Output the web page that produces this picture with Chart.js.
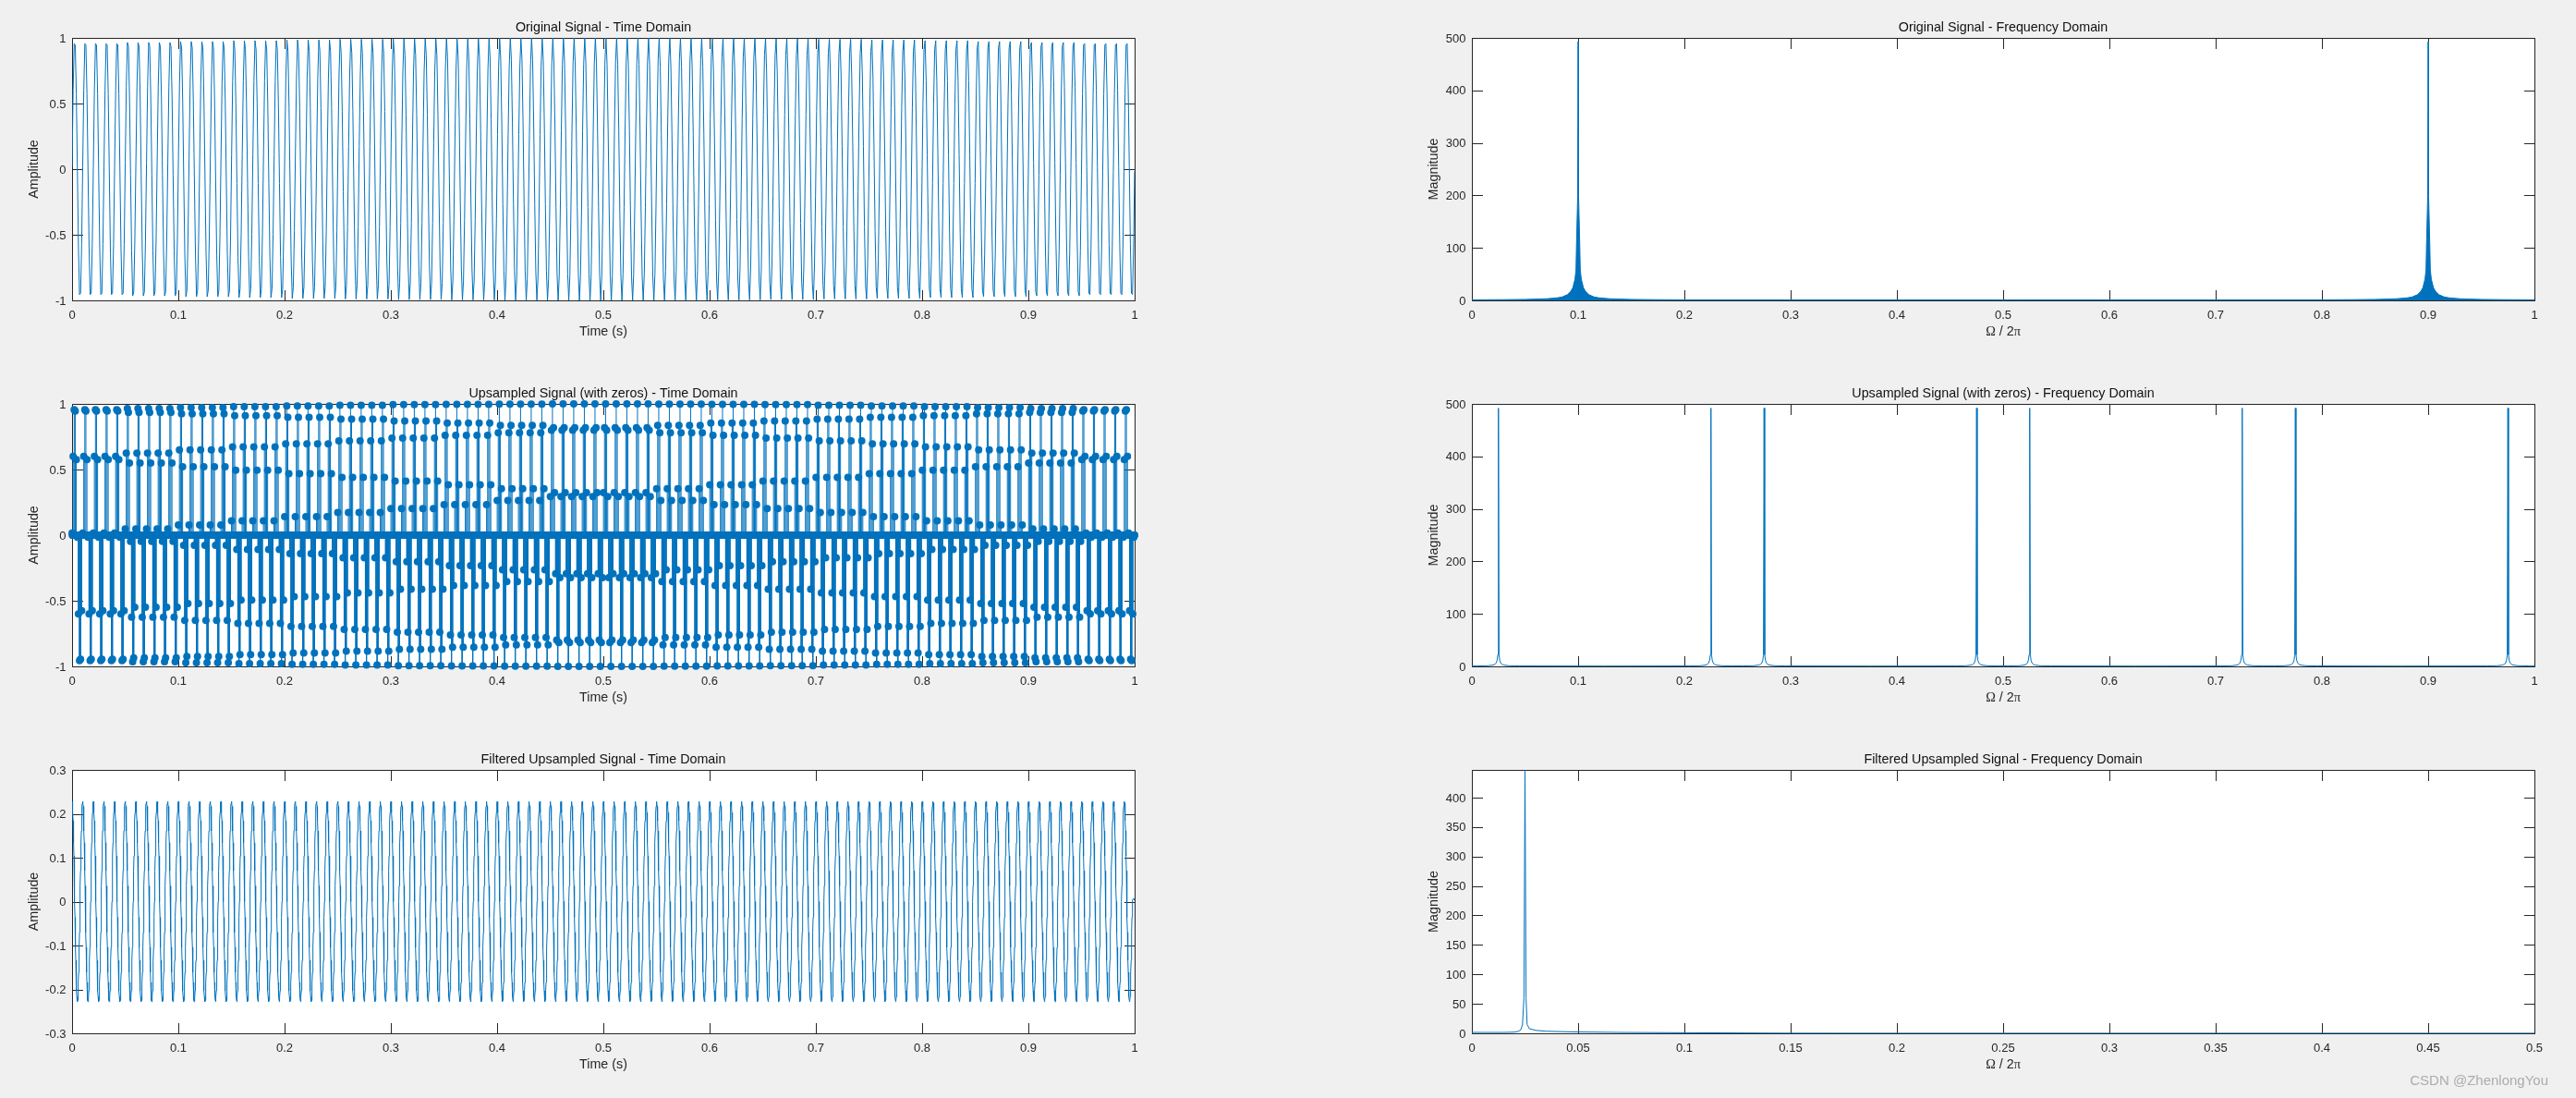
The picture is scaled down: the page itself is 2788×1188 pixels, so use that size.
<!DOCTYPE html>
<html>
<head>
<meta charset="utf-8">
<script src="https://cdn.jsdelivr.net/npm/chart.js@4/dist/chart.umd.min.js"></script>
<style>
html,body{margin:0;padding:0;background:#f0f0f0;width:2788px;height:1188px;overflow:hidden;}
canvas{position:absolute;}
#wm{position:absolute;right:30px;top:1161px;font:15px "Liberation Sans",Arial,sans-serif;line-height:16px;color:#acacac;white-space:nowrap;}
</style>
</head>
<body>
<canvas id="c1"></canvas><canvas id="c2"></canvas>
<canvas id="c3"></canvas><canvas id="c4"></canvas>
<canvas id="c5"></canvas><canvas id="c6"></canvas>
<div id="wm">CSDN @ZhenlongYou</div>
<script>
// ================= DATA =================
// Original signal: 1000 samples over 0..1 s, 10 samples per cycle.
// Sample levels of one cycle, read in 20 consecutive 0.05 s segments (5 cycles each);
// the levels drift slowly, which is visible in the stem plot.
const origSegments = [
  [0.016,0.600,0.956,0.946,0.575,-0.016,-0.600,-0.956,-0.946,-0.575],
  [0.047,0.625,0.965,0.935,0.549,-0.047,-0.625,-0.965,-0.935,-0.549],
  [0.078,0.649,0.972,0.924,0.522,-0.078,-0.649,-0.972,-0.924,-0.522],
  [0.110,0.673,0.979,0.911,0.495,-0.110,-0.673,-0.979,-0.911,-0.495],
  [0.141,0.696,0.985,0.898,0.468,-0.141,-0.696,-0.985,-0.898,-0.468],
  [0.172,0.718,0.990,0.884,0.440,-0.172,-0.718,-0.990,-0.884,-0.440],
  [0.203,0.740,0.994,0.869,0.412,-0.203,-0.740,-0.994,-0.869,-0.412],
  [0.233,0.760,0.997,0.853,0.383,-0.233,-0.760,-0.997,-0.853,-0.383],
  [0.264,0.780,0.999,0.836,0.353,-0.264,-0.780,-0.999,-0.836,-0.353],
  [0.294,0.800,1.000,0.818,0.324,-0.294,-0.800,-1.000,-0.818,-0.324],
  [0.324,0.818,1.000,0.800,0.294,-0.324,-0.818,-1.000,-0.800,-0.294],
  [0.353,0.836,0.999,0.780,0.264,-0.353,-0.836,-0.999,-0.780,-0.264],
  [0.383,0.853,0.997,0.760,0.233,-0.383,-0.853,-0.997,-0.760,-0.233],
  [0.412,0.869,0.994,0.740,0.203,-0.412,-0.869,-0.994,-0.740,-0.203],
  [0.440,0.884,0.990,0.718,0.172,-0.440,-0.884,-0.990,-0.718,-0.172],
  [0.468,0.898,0.985,0.696,0.141,-0.468,-0.898,-0.985,-0.696,-0.141],
  [0.495,0.911,0.979,0.673,0.110,-0.495,-0.911,-0.979,-0.673,-0.110],
  [0.522,0.924,0.972,0.649,0.078,-0.522,-0.924,-0.972,-0.649,-0.078],
  [0.549,0.935,0.965,0.625,0.047,-0.549,-0.935,-0.965,-0.625,-0.047],
  [0.575,0.946,0.956,0.600,0.016,-0.575,-0.946,-0.956,-0.600,-0.016]
];
const cyclesPerSegment = 5;
const upFactor = 4;            // zeros inserted: 3 zeros after every sample

// Filtered upsampled signal: one 40-sample cycle (amplitude ~0.228), 100 cycles,
// and the last 20 samples (end transient) as read.
const filtCycle = [0.228,0.225,0.217,0.203,0.184,0.161,0.134,0.104,0.070,0.036,
  0.000,-0.036,-0.070,-0.104,-0.134,-0.161,-0.184,-0.203,-0.217,-0.225,
  -0.228,-0.225,-0.217,-0.203,-0.184,-0.161,-0.134,-0.104,-0.070,-0.036,
  0.000,0.036,0.070,0.104,0.134,0.161,0.184,0.203,0.217,0.225];
const filtCycles = 100;
const filtEnd = [-0.228,-0.225,-0.217,-0.203,-0.184,-0.161,-0.134,-0.104,-0.070,-0.036,
  -0.010,0.000,0.004,0.006,0.007,0.007,0.006,0.005,0.004,0.003];

// Original spectrum: peaks and the skirt shape around each peak (offset, magnitude)
const origPeakF = [0.1, 0.9];
const origPeakM = [493, 493];
const origSkirtOff = [-0.1,-0.07,-0.05,-0.03,-0.02,-0.015,-0.01,-0.007,-0.005,-0.003,-0.002,-0.0015,-0.0004,
                       0.0004,0.0015,0.002,0.003,0.005,0.007,0.01,0.015,0.02,0.03,0.05,0.07,0.1];
const origSkirtM   = [1.0,1.4,1.8,3.0,4.7,6.5,11,17,24,40,58,108,200,
                       200,108,58,40,24,17,11,6.5,4.7,3.0,1.8,1.4,1.0];
const origBaseF = [0.5];
const origBaseM = [0.8];

// Upsampled spectrum: 8 image peaks
const upPeakF = [0.025,0.225,0.275,0.475,0.525,0.725,0.775,0.975];
const upPeakM = [492,492,492,492,492,492,492,492];
const upSkirtOff = [-0.02,-0.01,-0.005,-0.003,-0.002,-0.0012,-0.0006,
                     0.0006,0.0012,0.002,0.003,0.005,0.01,0.02];
const upSkirtM   = [0.8,1.2,2.5,4.5,7,12,22,22,12,7,4.5,2.5,1.2,0.8];
const upBaseF = [0,0.125,0.375,0.625,0.875,1];
const upBaseM = [0.6,0.6,0.6,0.6,0.6,0.6];

// Filtered spectrum (0 .. 0.5)
const filtSpecF = [0,0.015,0.02,0.022,0.023,0.0238,0.0245,0.025,0.0255,0.026,0.027,0.03,0.035,0.04,0.05,0.07,0.1,0.13,0.15,0.2,0.3,0.4,0.5];
const filtSpecM = [1.5,1.5,2,3.5,6,14,60,447,60,15,8,5,3.5,3,2.3,1.5,1,0.5,0.2,0.1,0.1,0.1,0.1];

// Tick values and labels
const timeTicks = [0,0.1,0.2,0.3,0.4,0.5,0.6,0.7,0.8,0.9,1];
const timeTickLabels = ['0','0.1','0.2','0.3','0.4','0.5','0.6','0.7','0.8','0.9','1'];
const halfTicks = [0,0.05,0.1,0.15,0.2,0.25,0.3,0.35,0.4,0.45,0.5];
const halfTickLabels = ['0','0.05','0.1','0.15','0.2','0.25','0.3','0.35','0.4','0.45','0.5'];
const ampTicks = [-1,-0.5,0,0.5,1];
const ampTickLabels = ['-1','-0.5','0','0.5','1'];
const filtAmpTicks = [-0.3,-0.2,-0.1,0,0.1,0.2,0.3];
const filtAmpTickLabels = ['-0.3','-0.2','-0.1','0','0.1','0.2','0.3'];
const magTicks = [0,100,200,300,400,500];
const magTickLabels = ['0','100','200','300','400','500'];
const filtMagTicks = [0,50,100,150,200,250,300,350,400];
const filtMagTickLabels = ['0','50','100','150','200','250','300','350','400'];

// ================= BUILD SERIES =================
const origSamples = [];
origSegments.forEach(row => { for (let k = 0; k < cyclesPerSegment; k++) origSamples.push(...row); });
const N = origSamples.length;
const origPts = origSamples.map((v, i) => ({x: i / (N - 1), y: v}));

const upSamples = [];
origSamples.forEach(v => { upSamples.push(v); for (let k = 1; k < upFactor; k++) upSamples.push(0); });
const M = upSamples.length;
const upPts = upSamples.map((v, i) => ({x: i / (M - 1), y: v}));
const stemPts = [];
upPts.forEach(p => { stemPts.push({x: p.x, y: 0}, {x: p.x, y: p.y}, {x: p.x, y: NaN}); });

const filtSamples = [];
for (let k = 0; k < filtCycles; k++) filtSamples.push(...filtCycle);
filtSamples.splice(filtSamples.length - filtEnd.length, filtEnd.length, ...filtEnd);
const F = filtSamples.length;
const filtPts = filtSamples.map((v, i) => ({x: i / (F - 1), y: v}));

function peakSeries(pf, pm, off, om, bf, bm) {
  const pts = [];
  pf.forEach((c, i) => {
    pts.push({x: c, y: pm[i]});
    off.forEach((o, j) => pts.push({x: c + o, y: om[j]}));
  });
  bf.forEach((f, i) => pts.push({x: f, y: bm[i]}));
  pts.sort((a, b) => a.x - b.x);
  return pts;
}
const origSpecPts = peakSeries(origPeakF, origPeakM, origSkirtOff, origSkirtM, origBaseF, origBaseM);
const upSpecPts = peakSeries(upPeakF, upPeakM, upSkirtOff, upSkirtM, upBaseF, upBaseM);
const filtSpecPts = filtSpecF.map((f, i) => ({x: f, y: filtSpecM[i]}));

// ================= DRAWING =================
const BLUE = '#0072BD';
const SANS = '"Liberation Sans", Arial, Helvetica, sans-serif';
const SERIF = '"Liberation Serif", "Times New Roman", serif';
const AX_W = 1150;
const COL_LEFT = [78, 1593];
const ROW_TOP = [41, 437, 833];
const ROW_H = [284, 284, 285];
const PADL = 78, PADT = 41, PADR = 30, PADB = 70;

function axesPlugin(cfg) {
  return {
    id: 'matlabAxes',
    beforeDraw(chart) {
      const {ctx, chartArea: a} = chart;
      ctx.save();
      ctx.fillStyle = '#ffffff';
      ctx.fillRect(a.left, a.top, a.right - a.left, a.bottom - a.top);
      ctx.restore();
    },
    beforeDatasetsDraw(chart) {
      const {ctx, chartArea: a, scales: {x, y}} = chart;
      const L = Math.round(a.left) + 0.5, R = Math.round(a.right) + 0.5;
      const T = Math.round(a.top) + 0.5, B = Math.round(a.bottom) + 0.5;
      const tl = 11.5;
      ctx.save();
      ctx.strokeStyle = '#262626';
      ctx.lineWidth = 1;
      ctx.beginPath();
      ctx.rect(L, T, R - L, B - T);
      x.ticks.forEach(t => {
        const px = Math.round(x.getPixelForValue(t.value)) + 0.5;
        ctx.moveTo(px, B); ctx.lineTo(px, B - tl);
        ctx.moveTo(px, T); ctx.lineTo(px, T + tl);
      });
      y.ticks.forEach(t => {
        const py = Math.round(y.getPixelForValue(t.value)) + 0.5;
        ctx.moveTo(L, py); ctx.lineTo(L + tl, py);
        ctx.moveTo(R, py); ctx.lineTo(R - tl, py);
      });
      ctx.stroke();
      ctx.restore();
    },
    afterDraw(chart) {
      const {ctx, chartArea: a, scales: {x, y}} = chart;
      ctx.save();
      ctx.fillStyle = '#262626';
      ctx.font = '13px ' + SANS;
      ctx.textAlign = 'center'; ctx.textBaseline = 'alphabetic';
      x.ticks.forEach((t, i) => ctx.fillText(cfg.xTickLabels[i], x.getPixelForValue(t.value), a.bottom + 20));
      ctx.textAlign = 'right'; ctx.textBaseline = 'middle';
      y.ticks.forEach((t, i) => ctx.fillText(cfg.yTickLabels[i], a.left - 6.5, y.getPixelForValue(t.value) + 1));
      // title
      ctx.fillStyle = '#111111';
      ctx.font = '14.3px ' + SANS;
      ctx.textAlign = 'center'; ctx.textBaseline = 'alphabetic';
      ctx.fillText(cfg.title, (a.left + a.right) / 2, a.top - 7.5);
      // x label (segments, for TeX-like greek)
      ctx.fillStyle = '#262626';
      let total = 0;
      cfg.xlabel.forEach(s => { ctx.font = '14.3px ' + s[1]; total += ctx.measureText(s[0]).width; });
      let cx = (a.left + a.right) / 2 - total / 2;
      ctx.textAlign = 'left';
      cfg.xlabel.forEach(s => { ctx.font = '14.3px ' + s[1]; ctx.fillText(s[0], cx, a.bottom + 38); cx += ctx.measureText(s[0]).width; });
      // y label
      ctx.font = '14.3px ' + SANS;
      ctx.textAlign = 'center'; ctx.textBaseline = 'middle';
      ctx.translate(a.left - 41, (a.top + a.bottom) / 2);
      ctx.rotate(-Math.PI / 2);
      ctx.fillText(cfg.ylabel, 0, 0);
      ctx.restore();
    }
  };
}

function makeAxes(cfg) {
  const cv = document.getElementById(cfg.id);
  const left = COL_LEFT[cfg.col], top = ROW_TOP[cfg.row], h = ROW_H[cfg.row];
  cv.width = AX_W + PADL + PADR;
  cv.height = h + PADT + PADB;
  cv.style.left = (left - PADL) + 'px';
  cv.style.top = (top - PADT) + 'px';
  new Chart(cv, {
    type: 'line',
    data: {datasets: cfg.datasets},
    options: {
      responsive: false, animation: false, devicePixelRatio: 1, events: [],
      parsing: false, normalized: true,
      layout: {padding: {left: PADL, top: PADT, right: PADR, bottom: PADB}},
      plugins: {legend: {display: false}, tooltip: {enabled: false}, title: {display: false}},
      scales: {
        x: {type: 'linear', display: false, min: cfg.xMin, max: cfg.xMax,
            afterBuildTicks: s => { s.ticks = cfg.xTicks.map(v => ({value: v})); }},
        y: {type: 'linear', display: false, min: cfg.yMin, max: cfg.yMax,
            afterBuildTicks: s => { s.ticks = cfg.yTicks.map(v => ({value: v})); }}
      }
    },
    plugins: [axesPlugin(cfg)]
  });
}

const lineDs = (pts, extra) => Object.assign({
  data: pts, borderColor: BLUE, borderWidth: 1, pointRadius: 0, tension: 0, fill: false, spanGaps: false
}, extra || {});

const timeLabel = [['Time (s)', SANS]];
const freqLabel = [['\u03A9', SERIF], [' / 2', SANS], ['\u03C0', SERIF]];

makeAxes({id: 'c1', col: 0, row: 0, title: 'Original Signal - Time Domain', xlabel: timeLabel, ylabel: 'Amplitude',
  xMin: 0, xMax: 1, yMin: -1, yMax: 1, xTicks: timeTicks, xTickLabels: timeTickLabels, yTicks: ampTicks, yTickLabels: ampTickLabels,
  datasets: [lineDs(origPts)]});

makeAxes({id: 'c2', col: 1, row: 0, title: 'Original Signal - Frequency Domain', xlabel: freqLabel, ylabel: 'Magnitude',
  xMin: 0, xMax: 1, yMin: 0, yMax: 500, xTicks: timeTicks, xTickLabels: timeTickLabels, yTicks: magTicks, yTickLabels: magTickLabels,
  datasets: [lineDs(origSpecPts, {fill: 'origin', backgroundColor: BLUE})]});

makeAxes({id: 'c3', col: 0, row: 1, title: 'Upsampled Signal (with zeros) - Time Domain', xlabel: timeLabel, ylabel: 'Amplitude',
  xMin: 0, xMax: 1, yMin: -1, yMax: 1, xTicks: timeTicks, xTickLabels: timeTickLabels, yTicks: ampTicks, yTickLabels: ampTickLabels,
  datasets: [
    {data: upPts, showLine: false, pointRadius: 4, pointBorderWidth: 0, pointBackgroundColor: BLUE, borderColor: BLUE, clip: false},
    lineDs(stemPts)
  ]});

makeAxes({id: 'c4', col: 1, row: 1, title: 'Upsampled Signal (with zeros) - Frequency Domain', xlabel: freqLabel, ylabel: 'Magnitude',
  xMin: 0, xMax: 1, yMin: 0, yMax: 500, xTicks: timeTicks, xTickLabels: timeTickLabels, yTicks: magTicks, yTickLabels: magTickLabels,
  datasets: [lineDs(upSpecPts)]});

makeAxes({id: 'c5', col: 0, row: 2, title: 'Filtered Upsampled Signal - Time Domain', xlabel: timeLabel, ylabel: 'Amplitude',
  xMin: 0, xMax: 1, yMin: -0.3, yMax: 0.3, xTicks: timeTicks, xTickLabels: timeTickLabels, yTicks: filtAmpTicks, yTickLabels: filtAmpTickLabels,
  datasets: [lineDs(filtPts)]});

makeAxes({id: 'c6', col: 1, row: 2, title: 'Filtered Upsampled Signal - Frequency Domain', xlabel: freqLabel, ylabel: 'Magnitude',
  xMin: 0, xMax: 0.5, yMin: 0, yMax: 447, xTicks: halfTicks, xTickLabels: halfTickLabels, yTicks: filtMagTicks, yTickLabels: filtMagTickLabels,
  datasets: [lineDs(filtSpecPts)]});
</script>
</body>
</html>
